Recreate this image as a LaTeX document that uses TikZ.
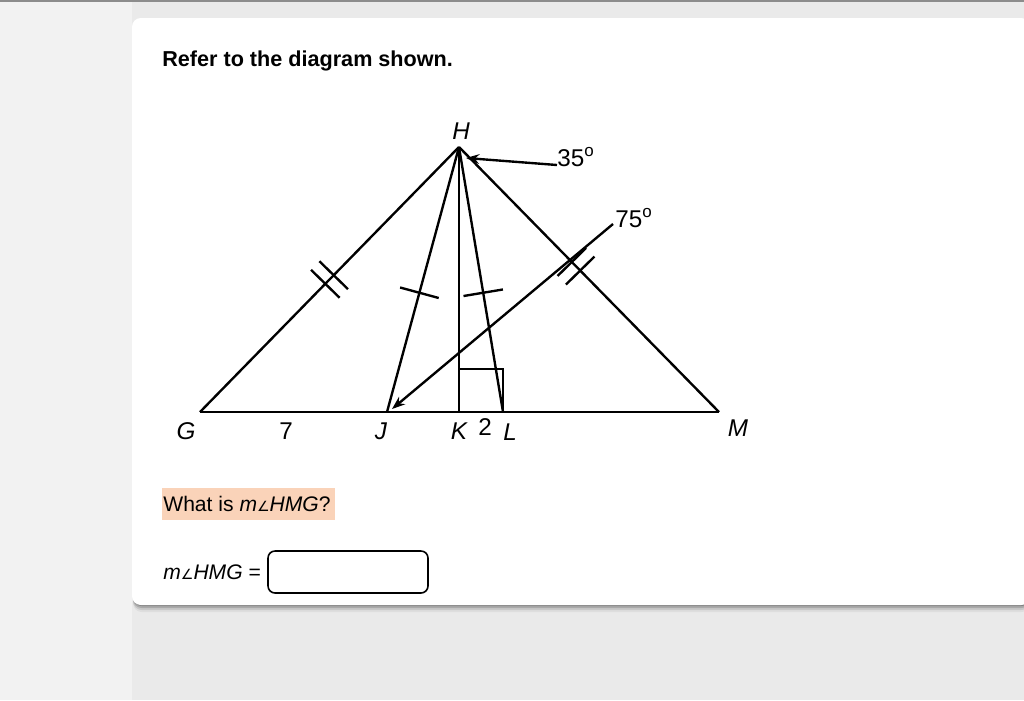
\documentclass[tikz,border=0pt]{standalone}
\usepackage{fontspec}
\setmainfont{Liberation Sans}
\newfontfamily\anglefont{DejaVu Sans}
\usetikzlibrary{calc,arrows.meta,decorations.markings}
\definecolor{pagegray}{HTML}{F2F2F2}
\definecolor{stripgray}{HTML}{EAEAEA}
\definecolor{peach}{HTML}{FAD3B9}

\newcommand{\angsign}{{\anglefont\fontsize{8}{8}\selectfont ∠}}
\newcommand{\degr}{\textsuperscript{o}}

\tikzset{
	seg/.style={line width=1.35pt},
	lbl/.style={font=\fontsize{13.8}{16}\selectfont\itshape, inner sep=0pt},
	num/.style={font=\fontsize{13.8}{16}\selectfont, inner sep=0pt},
	pointer/.style={line width=1.35pt, -{Stealth[length=7.5pt, width=5.5pt]}},
	tickone/.style={postaction={decorate, decoration={markings,
		mark=at position #1 with {\draw[line width=1.35pt] (0,-20) -- (0,20);}}}},
	ticktwo/.style={postaction={decorate, decoration={markings,
		mark=at position #1 with {\draw[line width=1.35pt] (-6,-20) -- (-6,20) (6,-20) -- (6,20);}}}}
}

\begin{document}
\begin{tikzpicture}[x=0.02cm, y=-0.02cm]
	\useasboundingbox (0,0) rectangle (1024,700);
	% page and card
	\fill[pagegray] (0,0) rectangle (1024,700);
	\fill[stripgray] (132,0) rectangle (1024,700);
	\fill[black!45] (0,0) rectangle (1024,2);
	\foreach \s/\o in {7/0.05, 5/0.1, 3/0.15, 1/0.25}
		\fill[black, opacity=\o, rounded corners=5] (133,20) rectangle (1030,605+\s);
	\fill[white, rounded corners=5] (132,18) rectangle (1030,605);

	\node[font=\fontsize{12.3}{14}\selectfont\bfseries, anchor=base west, inner sep=0pt] (title) at (162,66) {Refer to the diagram shown.};

	% points
	\coordinate (H) at (459,147);
	\coordinate (G) at (200,412);
	\coordinate (M) at (719,412);
	\coordinate (J) at (387,412);
	\coordinate (K) at (459,412);
	\coordinate (L) at (503,412);

	% triangle and cevians
	\draw[seg, ticktwo=0.5] (G) -- (H);
	\draw[seg, ticktwo=0.45] (H) -- (M);
	\draw[seg] (G) -- (M);
	\draw[seg, tickone=0.55] (H) -- (J);
	\draw[seg, tickone=0.55] (H) -- (L);
	\draw[seg] (H) -- (K);
	\draw[seg] ($(K)+(0,-43)$) -| (L);

	% labels
	\node[lbl] (lH) at (461,131) {H};
	\node[lbl] (lG) at (186,431) {G};
	\node[num] (l7) at (286,431) {7};
	\node[lbl] (lJ) at (381,431) {J};
	\node[lbl] (lK) at (459,431) {K};
	\node[num] (l2) at (485,427) {2};
	\node[lbl] (lL) at (510,432) {L};
	\node[lbl] (lM) at (738,428) {M};

	% angle pointers
	\node[num] (a35) at (576,157) {35\degr};
	\node[num] (a75) at (634,218) {75\degr};
	\coordinate (s35) at (557,165);
	\coordinate (t35) at (466,158);
	\coordinate (s75) at (613,224);
	\coordinate (t75) at (392,409);
	\draw[pointer] (s35) -- (t35);
	\draw[pointer] (s75) -- (t75);

	% question
	\fill[peach] (162,488) rectangle (335,520);
	\node[font=\fontsize{12}{14}\selectfont, anchor=base west, inner sep=0pt] (quest) at (163,511) {What is \textit{m}\angsign\textit{HMG}?};
	\node[font=\fontsize{12}{14}\selectfont, anchor=base west, inner sep=0pt] (ans) at (163,579) {\textit{m}\angsign\textit{HMG} =};
	\draw[line width=0.9pt, rounded corners=4] (268,551) rectangle (428,593);
\end{tikzpicture}
\end{document}
